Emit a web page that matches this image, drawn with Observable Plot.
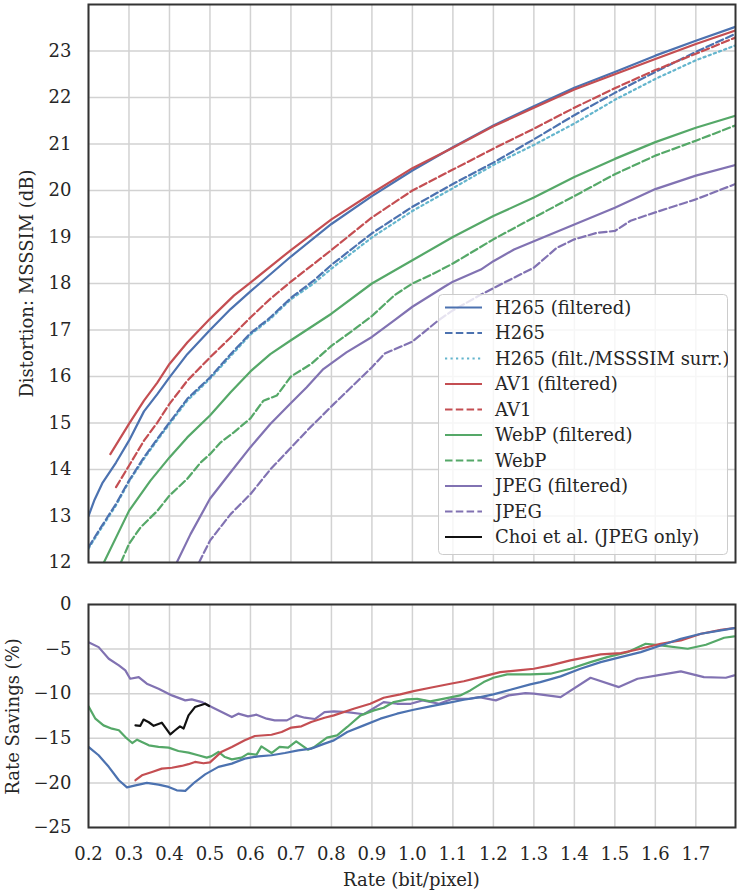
<!DOCTYPE html>
<html>
<head>
<meta charset="utf-8">
<script src="https://cdn.jsdelivr.net/npm/d3@7"></script>
<script src="https://cdn.jsdelivr.net/npm/@observablehq/plot@0.6"></script>
<style>
  html, body { margin: 0; padding: 0; background: white; }
  #chart { position: relative; width: 737px; height: 893px; font-family: "DejaVu Serif", serif; color: #262626; }
  #chart > svg { position: absolute; left: 0; }
  .lbl { position: absolute; font-family: "DejaVu Serif", serif; font-size: 18px; color: #262626; white-space: nowrap; }
</style>
</head>
<body>
<div id="chart"></div>
<script>
// ---------------- Data ----------------
const xTicks = [0.2, 0.3, 0.4, 0.5, 0.6, 0.7, 0.8, 0.9, 1.0, 1.1, 1.2, 1.3, 1.4, 1.5, 1.6, 1.7];
const yTicksTop = [12, 13, 14, 15, 16, 17, 18, 19, 20, 21, 22, 23];
const yTicksBottom = [-25, -20, -15, -10, -5, 0];

// Top panel: distortion (MSSSIM dB) vs rate
const h265fX = [0.2, 0.215, 0.235, 0.268, 0.3, 0.337, 0.37, 0.4, 0.444, 0.5, 0.551, 0.6, 0.7, 0.8, 0.9, 1.0, 1.1, 1.2, 1.3, 1.4, 1.5, 1.6, 1.7, 1.798];
const h265fY = [13.0, 13.35, 13.72, 14.15, 14.62, 15.25, 15.62, 15.98, 16.48, 17.0, 17.45, 17.83, 18.58, 19.28, 19.88, 20.43, 20.93, 21.4, 21.81, 22.21, 22.55, 22.9, 23.22, 23.52];

const h265X = [0.2, 0.231, 0.268, 0.3, 0.337, 0.37, 0.4, 0.444, 0.5, 0.551, 0.6, 0.649, 0.7, 0.756, 0.8, 0.9, 1.0, 1.1, 1.2, 1.3, 1.4, 1.5, 1.6, 1.7, 1.798];
const h265Y = [12.33, 12.76, 13.26, 13.76, 14.26, 14.66, 15.01, 15.52, 15.98, 16.48, 16.93, 17.27, 17.69, 18.06, 18.4, 19.08, 19.65, 20.14, 20.6, 21.1, 21.62, 22.1, 22.55, 22.98, 23.37];

const h265sX = [0.2, 0.231, 0.268, 0.3, 0.337, 0.37, 0.4, 0.444, 0.5, 0.551, 0.6, 0.649, 0.7, 0.756, 0.8, 0.9, 1.0, 1.1, 1.2, 1.3, 1.4, 1.5, 1.6, 1.7, 1.798];
const h265sY = [12.3, 12.73, 13.23, 13.74, 14.23, 14.63, 14.98, 15.48, 15.95, 16.44, 16.9, 17.24, 17.66, 18.0, 18.32, 18.99, 19.56, 20.05, 20.55, 20.98, 21.44, 21.95, 22.4, 22.8, 23.12];

const av1fX = [0.254, 0.3, 0.337, 0.37, 0.4, 0.444, 0.5, 0.559, 0.6, 0.7, 0.8, 0.9, 1.0, 1.1, 1.2, 1.3, 1.4, 1.5, 1.6, 1.7, 1.798];
const av1fY = [14.33, 14.98, 15.48, 15.87, 16.27, 16.73, 17.24, 17.74, 18.02, 18.72, 19.38, 19.94, 20.48, 20.92, 21.38, 21.78, 22.17, 22.5, 22.83, 23.15, 23.44];

const av1X = [0.268, 0.3, 0.337, 0.37, 0.4, 0.444, 0.5, 0.551, 0.6, 0.649, 0.7, 0.8, 0.9, 1.0, 1.1, 1.2, 1.3, 1.4, 1.5, 1.6, 1.7, 1.798];
const av1Y = [13.62, 14.08, 14.62, 15.01, 15.41, 15.91, 16.41, 16.84, 17.27, 17.67, 18.04, 18.72, 19.42, 20.0, 20.45, 20.9, 21.33, 21.78, 22.2, 22.59, 22.94, 23.29];

const webpfX = [0.238, 0.3, 0.353, 0.4, 0.444, 0.5, 0.551, 0.6, 0.649, 0.7, 0.8, 0.9, 1.0, 1.1, 1.2, 1.3, 1.4, 1.5, 1.6, 1.7, 1.798];
const webpfY = [12.0, 13.11, 13.76, 14.26, 14.69, 15.16, 15.66, 16.11, 16.48, 16.78, 17.35, 18.0, 18.5, 19.0, 19.45, 19.85, 20.29, 20.68, 21.04, 21.35, 21.61];

const webpX = [0.28, 0.3, 0.329, 0.37, 0.4, 0.444, 0.477, 0.5, 0.526, 0.559, 0.6, 0.632, 0.665, 0.7, 0.75, 0.8, 0.848, 0.9, 0.956, 1.0, 1.054, 1.1, 1.2, 1.3, 1.4, 1.5, 1.6, 1.7, 1.798];
const webpY = [12.0, 12.4, 12.76, 13.11, 13.44, 13.8, 14.15, 14.33, 14.58, 14.8, 15.1, 15.48, 15.59, 16.0, 16.27, 16.66, 16.96, 17.3, 17.75, 18.0, 18.22, 18.43, 18.95, 19.42, 19.88, 20.35, 20.75, 21.07, 21.4];

const jpegfX = [0.418, 0.452, 0.5, 0.551, 0.6, 0.649, 0.7, 0.739, 0.78, 0.837, 0.9, 0.956, 1.0, 1.079, 1.1, 1.169, 1.2, 1.251, 1.3, 1.4, 1.5, 1.6, 1.7, 1.798];
const jpegfY = [12.0, 12.61, 13.37, 13.94, 14.48, 14.98, 15.43, 15.77, 16.16, 16.52, 16.85, 17.21, 17.5, 17.93, 18.04, 18.3, 18.48, 18.73, 18.91, 19.27, 19.63, 20.03, 20.32, 20.55];

const jpegX = [0.473, 0.5, 0.551, 0.6, 0.649, 0.698, 0.747, 0.805, 0.9, 0.931, 1.0, 1.063, 1.096, 1.169, 1.2, 1.3, 1.357, 1.4, 1.456, 1.5, 1.539, 1.6, 1.7, 1.798];
const jpegY = [12.0, 12.47, 13.04, 13.47, 14.0, 14.45, 14.9, 15.4, 16.2, 16.49, 16.75, 17.2, 17.4, 17.76, 17.9, 18.34, 18.77, 18.95, 19.09, 19.13, 19.35, 19.53, 19.81, 20.14];

// Bottom panel: rate savings (%) vs rate
const sH265X = [0.2, 0.225, 0.25, 0.275, 0.295, 0.316, 0.344, 0.373, 0.398, 0.418, 0.439, 0.463, 0.488, 0.521, 0.554, 0.586, 0.619, 0.652, 0.685, 0.718, 0.75, 0.783, 0.806, 0.839, 0.88, 0.921, 0.962, 1.003, 1.044, 1.085, 1.127, 1.168, 1.2, 1.242, 1.291, 1.316, 1.366, 1.415, 1.465, 1.514, 1.564, 1.613, 1.663, 1.713, 1.762, 1.795];
const sH265Y = [-15.97, -16.9, -18.2, -19.7, -20.5, -20.27, -20.0, -20.2, -20.45, -20.83, -20.9, -19.9, -19.04, -18.2, -17.84, -17.28, -17.02, -16.9, -16.65, -16.35, -16.16, -15.6, -15.23, -14.3, -13.55, -12.8, -12.24, -11.8, -11.42, -11.05, -10.68, -10.38, -10.08, -9.56, -8.96, -8.7, -8.06, -7.2, -6.46, -5.9, -5.34, -4.59, -3.84, -3.28, -2.91, -2.65];

const sAv1X = [0.316, 0.332, 0.357, 0.381, 0.406, 0.43, 0.447, 0.463, 0.484, 0.5, 0.529, 0.554, 0.586, 0.611, 0.652, 0.677, 0.701, 0.726, 0.75, 0.783, 0.806, 0.855, 0.896, 0.929, 0.97, 1.003, 1.044, 1.094, 1.127, 1.168, 1.217, 1.267, 1.3, 1.341, 1.39, 1.465, 1.515, 1.564, 1.613, 1.663, 1.713, 1.762, 1.795];
const sAv1Y = [-19.7, -19.15, -18.78, -18.4, -18.3, -18.1, -17.9, -17.65, -17.8, -17.7, -16.5, -15.97, -15.23, -14.74, -14.6, -14.3, -13.8, -13.66, -13.17, -12.7, -12.43, -11.68, -11.13, -10.45, -10.08, -9.71, -9.33, -8.88, -8.6, -8.14, -7.58, -7.35, -7.2, -6.83, -6.27, -5.6, -5.45, -4.96, -4.4, -4.03, -3.28, -2.84, -2.65];

const sWebpX = [0.2, 0.217, 0.237, 0.258, 0.275, 0.291, 0.308, 0.32, 0.349, 0.373, 0.398, 0.422, 0.447, 0.471, 0.492, 0.504, 0.521, 0.537, 0.554, 0.578, 0.594, 0.615, 0.627, 0.652, 0.672, 0.693, 0.713, 0.742, 0.758, 0.789, 0.814, 0.839, 0.872, 0.905, 0.929, 0.954, 0.987, 1.012, 1.044, 1.085, 1.118, 1.143, 1.176, 1.2, 1.234, 1.291, 1.341, 1.39, 1.44, 1.481, 1.531, 1.576, 1.613, 1.68, 1.725, 1.77, 1.795];
const sWebpY = [-11.42, -12.8, -13.55, -13.92, -14.1, -14.86, -15.53, -15.15, -15.79, -15.97, -16.05, -16.42, -16.6, -16.9, -17.17, -17.0, -16.53, -17.1, -17.36, -17.17, -16.72, -16.83, -15.9, -16.65, -15.97, -16.05, -15.34, -16.27, -15.97, -14.93, -14.67, -13.73, -12.43, -11.87, -11.57, -10.94, -10.64, -10.57, -10.86, -10.49, -10.19, -9.63, -8.7, -8.21, -7.84, -7.84, -7.76, -7.2, -6.46, -5.9, -5.34, -4.4, -4.59, -4.96, -4.51, -3.73, -3.58];

const sJpegX = [0.2, 0.225, 0.25, 0.275, 0.291, 0.303, 0.324, 0.344, 0.373, 0.406, 0.439, 0.455, 0.48, 0.504, 0.554, 0.57, 0.594, 0.615, 0.64, 0.66, 0.69, 0.713, 0.734, 0.759, 0.783, 0.806, 0.839, 0.88, 0.929, 0.962, 0.996, 1.025, 1.066, 1.099, 1.14, 1.165, 1.206, 1.238, 1.279, 1.3, 1.366, 1.44, 1.51, 1.556, 1.605, 1.663, 1.72, 1.774, 1.795];
const sJpegY = [-4.22, -4.78, -6.08, -6.83, -7.39, -8.32, -8.14, -8.88, -9.44, -10.19, -10.75, -10.64, -10.94, -11.5, -12.62, -12.24, -12.54, -12.35, -12.8, -12.99, -12.99, -12.43, -12.69, -12.84, -12.06, -11.98, -12.06, -12.3, -10.94, -11.13, -11.13, -10.75, -11.13, -10.57, -10.57, -10.38, -10.75, -10.19, -9.93, -10.0, -10.38, -8.21, -9.26, -8.32, -7.95, -7.5, -8.14, -8.21, -7.95];

const choiX = [0.316, 0.328, 0.336, 0.349, 0.361, 0.381, 0.402, 0.414, 0.426, 0.435, 0.447, 0.463, 0.488, 0.498];
const choiY = [-13.55, -13.6, -12.9, -13.2, -13.6, -13.25, -14.56, -14.1, -13.66, -13.9, -12.43, -11.5, -11.12, -11.38];

const legendNames = ["H265 (filtered)", "H265", "H265 (filt./MSSSIM surr.)", "AV1 (filtered)", "AV1", "WebP (filtered)", "WebP", "JPEG (filtered)", "JPEG", "Choi et al. (JPEG only)"];

// ---------------- Styles ----------------
const BLUE = "#4C72B0", RED = "#C44E52", GREEN = "#55A868", PURPLE = "#8172B2", CYAN = "#64B5CD", BLACK = "#111111";
const DASH = "7.5,3.3", DOT = "2.2,3.3";
const styleOf = {
  "H265 (filtered)": {stroke: BLUE, dash: null},
  "H265": {stroke: BLUE, dash: DASH},
  "H265 (filt./MSSSIM surr.)": {stroke: CYAN, dash: DOT},
  "AV1 (filtered)": {stroke: RED, dash: null},
  "AV1": {stroke: RED, dash: DASH},
  "WebP (filtered)": {stroke: GREEN, dash: null},
  "WebP": {stroke: GREEN, dash: DASH},
  "JPEG (filtered)": {stroke: PURPLE, dash: null},
  "JPEG": {stroke: PURPLE, dash: DASH},
  "Choi et al. (JPEG only)": {stroke: BLACK, dash: null}
};

const zip = (xs, ys) => xs.map((x, i) => ({x, y: ys[i]}));

const topSeries = [
  ["JPEG", jpegX, jpegY],
  ["JPEG (filtered)", jpegfX, jpegfY],
  ["WebP", webpX, webpY],
  ["WebP (filtered)", webpfX, webpfY],
  ["H265 (filt./MSSSIM surr.)", h265sX, h265sY],
  ["H265", h265X, h265Y],
  ["AV1", av1X, av1Y],
  ["H265 (filtered)", h265fX, h265fY],
  ["AV1 (filtered)", av1fX, av1fY]
];
const bottomSeries = [
  ["JPEG (filtered)", sJpegX, sJpegY],
  ["WebP (filtered)", sWebpX, sWebpY],
  ["AV1 (filtered)", sAv1X, sAv1Y],
  ["H265 (filtered)", sH265X, sH265Y],
  ["Choi et al. (JPEG only)", choiX, choiY]
];

const LW = 2.2;
const lineMark = ([name, xs, ys]) => Plot.line(zip(xs, ys), {
  x: "x", y: "y", stroke: styleOf[name].stroke, strokeWidth: LW,
  strokeDasharray: styleOf[name].dash || undefined, clip: true, curve: "linear"
});

const gridStyle = {stroke: "#d2d2d2", strokeOpacity: 1, strokeWidth: 1.5};
const minusFmt = d => d < 0 ? "\u2212" + Math.abs(d) : String(d);
const baseStyle = {fontFamily: "DejaVu Serif", fontSize: "18px", color: "#262626", background: "white", overflow: "visible"};

const topPlot = Plot.plot({
  width: 737, height: 570,
  marginLeft: 88, marginRight: 2, marginTop: 4, marginBottom: 8,
  style: baseStyle,
  x: {domain: [0.2, 1.798], axis: null},
  y: {domain: [12, 24]},
  marks: [
    Plot.gridX(xTicks, gridStyle),
    Plot.gridY(yTicksTop, gridStyle),
    ...topSeries.map(lineMark),
    Plot.axisY(yTicksTop, {tickSize: 0, tickPadding: 17, label: null}),
    Plot.frame({stroke: "#333333", strokeWidth: 2})
  ]
});

const bottomPlot = Plot.plot({
  width: 737, height: 323,
  marginLeft: 88, marginRight: 2, marginTop: 34, marginBottom: 66,
  style: baseStyle,
  x: {domain: [0.2, 1.798]},
  y: {domain: [-25, 0]},
  marks: [
    Plot.gridX(xTicks, gridStyle),
    Plot.gridY(yTicksBottom, gridStyle),
    ...bottomSeries.map(lineMark),
    Plot.axisX(xTicks, {tickSize: 0, tickPadding: 20, tickFormat: d3.format(".1f"), label: null}),
    Plot.axisY(yTicksBottom, {tickSize: 0, tickPadding: 17, tickFormat: minusFmt, label: null}),
    Plot.frame({stroke: "#333333", strokeWidth: 2})
  ]
});

const chart = document.getElementById("chart");
topPlot.style.top = "0px";
bottomPlot.style.top = "570px";
chart.appendChild(topPlot);
chart.appendChild(bottomPlot);

// Axis titles
function addLabel(text, cx, cy, rotate) {
  const d = document.createElement("div");
  d.className = "lbl";
  d.textContent = text;
  chart.appendChild(d);
  const w = d.offsetWidth, h = d.offsetHeight;
  d.style.left = (cx - w / 2) + "px";
  d.style.top = (cy - h / 2) + "px";
  if (rotate) d.style.transform = "rotate(-90deg)";
}
addLabel("Distortion: MSSSIM (dB)", 26, 283, true);
addLabel("Rate Savings (%)", 12, 716, true);
addLabel("Rate (bit/pixel)", 411.5, 879, false);

// Legend
const lg = d3.select(chart).append("svg")
  .style("position", "absolute").style("left", "438px").style("top", "294px")
  .attr("width", 290).attr("height", 261);
lg.append("rect").attr("x", 0.5).attr("y", 0.5).attr("width", 289).attr("height", 260).attr("rx", 4)
  .attr("fill", "white").attr("fill-opacity", 0.8).attr("stroke", "#cccccc").attr("stroke-width", 1);
const rows = lg.selectAll("g").data(legendNames).join("g")
  .attr("transform", (d, i) => `translate(0,${13.5 + i * 25.5})`);
rows.append("line").attr("x1", 7).attr("x2", 44).attr("y1", 0).attr("y2", 0)
  .attr("stroke", d => styleOf[d].stroke).attr("stroke-width", LW)
  .attr("stroke-dasharray", d => styleOf[d].dash);
rows.append("text").attr("x", 57).attr("dy", "0.35em").text(d => d)
  .attr("font-family", "DejaVu Serif").attr("font-size", 18).attr("fill", "#262626");
</script>
</body>
</html>
